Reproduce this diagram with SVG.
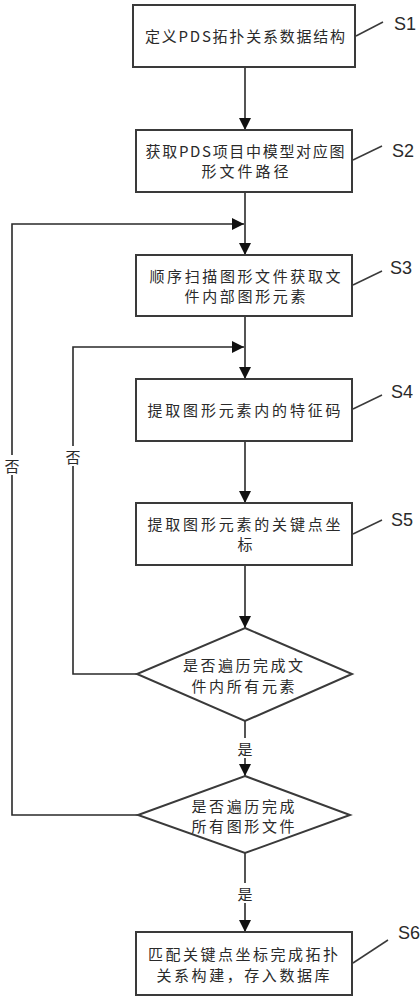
<svg xmlns="http://www.w3.org/2000/svg" width="420" height="1000" viewBox="0 0 420 1000">
<style>
.box{fill:#fff;stroke:#3a3a3a;stroke-width:2}
.t{font-family:"Noto Sans CJK SC","Noto Sans",sans-serif;font-size:15px;fill:#2a2a2a;text-anchor:middle;dominant-baseline:central}
.lbl{font-family:"Liberation Sans",Arial,sans-serif;font-size:18px;fill:#2a2a2a;dominant-baseline:central}
.ld{stroke:#3a3a3a;stroke-width:1.5;fill:none}
.c{stroke:#2a2a2a;stroke-width:1.6;fill:none}
.bg{fill:#fff}
</style>
<defs>
<marker id="ah" markerUnits="userSpaceOnUse" markerWidth="12" markerHeight="12" refX="12" refY="6" orient="auto">
<path d="M0,0 L12,6 L0,12 z" fill="#111"/>
</marker>
</defs>
<g id="connectors">
<line class="c" x1="245" y1="67" x2="245" y2="130" marker-end="url(#ah)"/>
<line class="c" x1="245" y1="192" x2="245" y2="255" marker-end="url(#ah)"/>
<line class="c" x1="245" y1="316" x2="245" y2="379" marker-end="url(#ah)"/>
<line class="c" x1="245" y1="441" x2="245" y2="503" marker-end="url(#ah)"/>
<line class="c" x1="245" y1="565" x2="245" y2="628" marker-end="url(#ah)"/>
<line class="c" x1="245" y1="721" x2="245" y2="776" marker-end="url(#ah)"/>
<line class="c" x1="245" y1="853" x2="245" y2="932" marker-end="url(#ah)"/>
<polyline class="c" points="138,815 12,815 12,224 244,224" marker-end="url(#ah)"/>
<polyline class="c" points="137,674 73,674 73,347 244,347" marker-end="url(#ah)"/>
<rect class="bg" x="2" y="455" width="20" height="20"/>
<text class="t" x="12" y="465">否</text>
<rect class="bg" x="63" y="446" width="20" height="20"/>
<text class="t" x="73" y="456">否</text>
<rect class="bg" x="235" y="738" width="20" height="20"/>
<text class="t" x="245" y="748">是</text>
<rect class="bg" x="235" y="883" width="20" height="20"/>
<text class="t" x="245" y="893">是</text>
</g>
<g id="S1">
<rect class="box" x="133" y="5" width="222" height="62"/>
<text class="t" x="245" y="35" textLength="200" lengthAdjust="spacing">定义PDS拓扑关系数据结构</text>
<line class="ld" x1="356" y1="36" x2="383" y2="22"/>
<text class="lbl" x="394" y="24">S1</text>
</g>
<g id="S2">
<rect class="box" x="136" y="130" width="216" height="62"/>
<text class="t" x="245" y="150" textLength="199" lengthAdjust="spacing">获取PDS项目中模型对应图</text>
<text class="t" x="245" y="170" textLength="87" lengthAdjust="spacing">形文件路径</text>
<line class="ld" x1="353" y1="160" x2="382" y2="146"/>
<text class="lbl" x="392" y="151">S2</text>
</g>
<g id="S3">
<rect class="box" x="136" y="255" width="216" height="61"/>
<text class="t" x="245" y="275" textLength="191" lengthAdjust="spacing">顺序扫描图形文件获取文</text>
<text class="t" x="245" y="295" textLength="121" lengthAdjust="spacing">件内部图形元素</text>
<line class="ld" x1="353" y1="285" x2="382" y2="271"/>
<text class="lbl" x="390" y="268">S3</text>
</g>
<g id="S4">
<rect class="box" x="136" y="379" width="216" height="62"/>
<text class="t" x="244" y="409" textLength="193" lengthAdjust="spacing">提取图形元素内的特征码</text>
<line class="ld" x1="353" y1="409" x2="382" y2="395"/>
<text class="lbl" x="391" y="392">S4</text>
</g>
<g id="S5">
<rect class="box" x="136" y="503" width="216" height="62"/>
<text class="t" x="244" y="523" textLength="193" lengthAdjust="spacing">提取图形元素的关键点坐</text>
<text class="t" x="245" y="543">标</text>
<line class="ld" x1="353" y1="534" x2="382" y2="520"/>
<text class="lbl" x="391" y="520">S5</text>
</g>
<g id="D1">
<polygon class="box" points="245,628 352,674 245,721 137,674"/>
<text class="t" x="243" y="664" textLength="120" lengthAdjust="spacing">是否遍历完成文</text>
<text class="t" x="243" y="685" textLength="103" lengthAdjust="spacing">件内所有元素</text>
</g>
<g id="D2">
<polygon class="box" points="245,776 350,815 245,853 138,815"/>
<text class="t" x="243" y="805" textLength="103" lengthAdjust="spacing">是否遍历完成</text>
<text class="t" x="243" y="825" textLength="103" lengthAdjust="spacing">所有图形文件</text>
</g>
<g id="S6">
<rect class="box" x="136" y="932" width="216" height="63"/>
<text class="t" x="243" y="953" textLength="190" lengthAdjust="spacing">匹配关键点坐标完成拓扑</text>
<text class="t" x="243" y="974" textLength="173" lengthAdjust="spacing">关系构建，存入数据库</text>
<line class="ld" x1="353" y1="963" x2="388" y2="940"/>
<text class="lbl" x="398" y="933">S6</text>
</g>
</svg>
